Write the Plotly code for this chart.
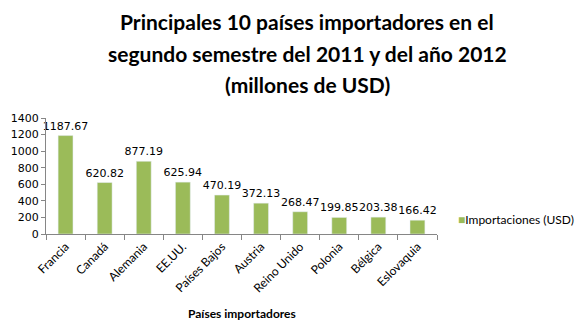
import plotly.graph_objects as go

# Top 10 importing countries, imports in millions of USD
paises = ["Francia", "Canadá", "Alemania", "EE.UU.", "Países Bajos",
          "Austria", "Reino Unido", "Polonia", "Bélgica", "Eslovaquia"]
importaciones = [1187.67, 620.82, 877.19, 625.94, 470.19,
                 372.13, 268.47, 199.85, 203.38, 166.42]
y_ticks = [0, 200, 400, 600, 800, 1000, 1200, 1400]

titulo = ["Principales 10 países importadores en el",
          "segundo semestre del 2011 y del año 2012",
          "(millones de USD)"]
serie = "Importaciones (USD)"
color_barra = "#9BBB59"

# plot area: top at 118 px, bottom at 234 px (116 px tall)
def paper_y(px):
    return (234 - px) / 116

fig = go.Figure()
fig.add_trace(go.Bar(
    x=paises,
    y=importaciones,
    name=serie,
    marker=dict(color=color_barra),
    text=[f"{v:.2f}" for v in importaciones],
    textposition="outside",
    constraintext="none",
    textfont=dict(family="DejaVu Sans", size=11, color="#000000"),
    cliponaxis=False,
    showlegend=False,
))

annotations = []
for i, linea in enumerate(titulo):
    annotations.append(dict(
        text=f"<b>{linea}</b>",
        xref="paper", yref="paper",
        x=(307 - 46) / 391, y=paper_y(22 + 31 * i),
        xanchor="center", yanchor="middle",
        showarrow=False,
        font=dict(family="Lato", size=21, color="#000000"),
    ))

# axis title
annotations.append(dict(
    text="<b>Países importadores</b>",
    xref="paper", yref="paper",
    x=0.5, y=paper_y(313), xanchor="center", yanchor="middle",
    showarrow=False,
    font=dict(family="Lato", size=12, color="#000000"),
))

# legend entry: colour key plus series name
annotations.append(dict(
    text=f"<span style='color:{color_barra}'>■</span>{serie}",
    xref="paper", yref="paper",
    x=(456 - 46) / 391, y=paper_y(219), xanchor="left", yanchor="middle",
    showarrow=False,
    font=dict(family="Lato", size=12, color="#000000"),
))

fig.update_layout(
    width=579,
    height=324,
    margin=dict(l=46, r=142, t=118, b=90),
    paper_bgcolor="white",
    plot_bgcolor="white",
    bargap=0.62,
    showlegend=False,
    xaxis=dict(
        type="category",
        tickangle=-45,
        tickson="boundaries",
        ticks="outside",
        ticklen=5,
        tickcolor="#868686",
        showline=True,
        linecolor="#868686",
        linewidth=1,
        showgrid=False,
        tickfont=dict(family="Lato", size=12, color="#000000"),
    ),
    yaxis=dict(
        range=[0, 1400],
        tickvals=y_ticks,
        ticks="outside",
        ticklen=4,
        tickcolor="#868686",
        showline=True,
        linecolor="#868686",
        linewidth=1,
        showgrid=False,
        zeroline=False,
        tickfont=dict(family="DejaVu Sans", size=11, color="#000000"),
    ),
    annotations=annotations,
)

fig.write_html("out.html")
